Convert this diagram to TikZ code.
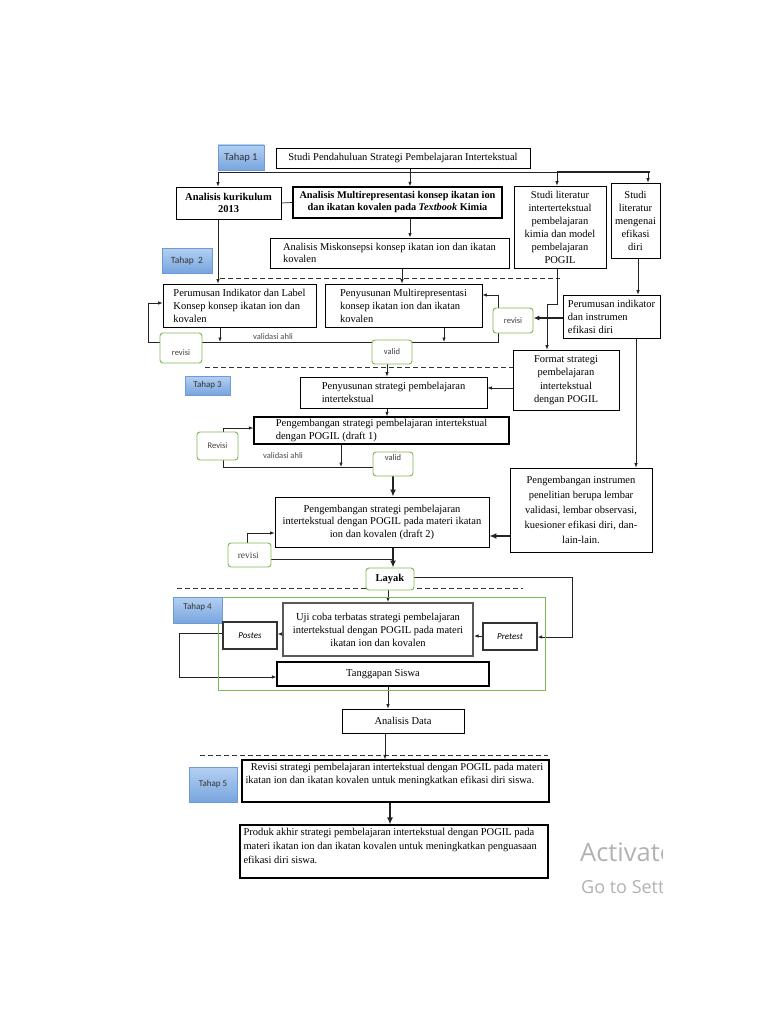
\documentclass[tikz,border=0pt]{standalone}
\usepackage{fontspec}
\setmainfont{Liberation Serif}
\newfontfamily\calfont{Carlito}
\newfontfamily\wmfont{Open Sans}
\usetikzlibrary{arrows.meta,backgrounds}
\definecolor{gcol}{RGB}{125,185,85}
\definecolor{tbtop}{RGB}{180,208,242}
\definecolor{tbbot}{RGB}{120,165,222}
\definecolor{tbline}{RGB}{110,155,215}
\definecolor{lncol}{RGB}{35,35,35}
\begin{document}
\begin{tikzpicture}[x=1pt,y=-1pt,
  bx/.style={draw=black, line width=0.8pt, fill=white, inner xsep=3pt, inner ysep=1pt,
     font=\fontsize{10.5}{12.5}\selectfont, align=center},
  gbox/.style={draw=gcol, line width=0.9pt, rounded corners=3pt, fill=white, inner sep=1pt,
     font=\calfont\fontsize{8.5}{9.5}\selectfont, text=black!75},
  tahap/.style={draw=tbline, line width=0.6pt, top color=tbtop, bottom color=tbbot, inner sep=1pt,
     font=\calfont\fontsize{9}{10}\selectfont, text=black!80},
  lbl/.style={font=\calfont\fontsize{8.5}{9.5}\selectfont, text=black!70, inner sep=0pt},
  ln/.style={draw=lncol, line width=0.7pt},
  arr/.style={ln, -{Latex[length=4.5pt,width=3.5pt]}},
  arrT/.style={draw=lncol, line width=1.4pt, -{Latex[length=7pt,width=6pt]}},
  sep/.style={draw=black!80, line width=0.8pt, dash pattern=on 5pt off 3pt}
]
\useasboundingbox (0,0) rectangle (768,1024);

% green frame of Tahap 4
\node[draw=gcol, line width=0.8pt, minimum width=327pt, minimum height=93pt, inner sep=0pt] (frame4) at (381.5,643.5) {};

% Tahap 1
\node[tahap, minimum width=46pt, minimum height=25pt, font=\calfont\fontsize{10.5}{11}\selectfont] (t1) at (241,157.5) {Tahap 1};
\node[bx, minimum width=254pt, minimum height=20pt] (studi) at (403,158) {Studi Pendahuluan Strategi Pembelajaran Intertekstual};
\node[bx, minimum width=105pt, minimum height=32pt, font=\bfseries\fontsize{10.5}{12}\selectfont] (kur) at (228.5,203) {Analisis kurikulum\\2013};
\node[bx, line width=1.4pt, minimum width=209pt, minimum height=31pt, font=\bfseries\fontsize{10.3}{12}\selectfont] (multi) at (397.5,202.5) {Analisis Multirepresentasi konsep ikatan ion\\dan ikatan kovalen pada \textit{Textbook} Kimia};
\node[bx, minimum width=92pt, minimum height=82pt, font=\fontsize{10.5}{13}\selectfont] (litpogil) at (560,227) {Studi literatur\\intertertekstual\\pembelajaran\\kimia dan model\\pembelajaran\\POGIL};
\node[bx, inner xsep=1pt, minimum width=49pt, minimum height=75pt, font=\fontsize{10.5}{13}\selectfont] (litefik) at (635.5,220.5) {Studi\\literatur\\mengenai\\efikasi\\diri};
\node[bx, align=left, minimum width=239pt, minimum height=30pt] (misk) at (389.5,253) {Analisis Miskonsepsi konsep ikatan ion dan ikatan\\kovalen};

% Tahap 2
\node[tahap, minimum width=50pt, minimum height=25pt, font=\calfont\fontsize{9.5}{10}\selectfont] (t2) at (187,260.5) {Tahap\ \ 2};
\node[bx, align=left, minimum width=153pt, minimum height=43pt, font=\fontsize{10.5}{13}\selectfont] (perum) at (239.5,305.5) {Perumusan Indikator dan Label\\Konsep konsep ikatan ion dan\\kovalen};
\node[bx, align=left, minimum width=157pt, minimum height=43pt, font=\fontsize{10.5}{13}\selectfont] (penyus) at (403.5,305.5) {Penyusunan Multirepresentasi\\konsep ikatan ion dan ikatan\\kovalen};
\node[bx, align=left, minimum width=97pt, minimum height=43pt, font=\fontsize{10.5}{13}\selectfont] (perind) at (611.5,316.5) {Perumusan indikator\\dan instrumen\\efikasi diri};
\node[gbox, minimum width=42pt, minimum height=30pt, text height=17pt, text depth=2pt] (rev1) at (181,348) {revisi};
\node[gbox, minimum width=40pt, minimum height=25pt] (rev2) at (513,320.5) {revisi};
\node[gbox, minimum width=40pt, minimum height=24pt] (valid1) at (392,352) {valid};
\node[lbl] (va1) at (273,337) {validasi ahli};

% Tahap 3
\node[tahap, minimum width=45pt, minimum height=19pt] (t3) at (207.5,385.5) {Tahap 3};
\node[bx, minimum width=106pt, minimum height=60pt, font=\fontsize{10.5}{13.5}\selectfont] (format) at (566,380) {Format strategi\\pembelajaran\\intertekstual\\dengan POGIL};
\node[bx, align=left, minimum width=187pt, minimum height=31pt] (penstrat) at (393.5,392.5) {Penyusunan strategi pembelajaran\\intertekstual};
\node[bx, line width=1.4pt, align=left, minimum width=255pt, minimum height=27pt] (draft1) at (381.5,430.5) {Pengembangan strategi pembelajaran intertekstual\\dengan POGIL (draft 1)};
\node[gbox, minimum width=41pt, minimum height=28pt] (rev3) at (217.5,446) {Revisi};
\node[gbox, minimum width=40pt, minimum height=24pt, text height=6pt, text depth=13pt] (valid2) at (393,464) {valid};
\node[lbl] (va2) at (283,456) {validasi ahli};
\node[bx, minimum width=214pt, minimum height=50pt] (draft2) at (382,522) {Pengembangan strategi pembelajaran\\intertekstual dengan POGIL pada materi ikatan\\ion dan kovalen (draft 2)};
\node[bx, minimum width=142pt, minimum height=84pt, font=\fontsize{10.5}{15}\selectfont] (instr) at (581,510) {Pengembangan instrumen\\penelitian berupa lembar\\validasi, lembar observasi,\\kuesioner efikasi diri, dan-\\lain-lain.};
\node[gbox, minimum width=43pt, minimum height=24pt, font=\fontsize{9.5}{10}\selectfont] (rev4) at (249.5,555) {revisi\ \ };
\node[gbox, minimum width=48pt, minimum height=22pt, font=\bfseries\fontsize{10.5}{12}\selectfont, text=black] (layak) at (390,579) {Layak};

% Tahap 4
\node[tahap, minimum width=49pt, minimum height=26pt, text height=6pt, text depth=8pt] (t4) at (197.5,610) {Tahap 4};
\node[bx, draw=black!65, line width=2pt, minimum width=190pt, minimum height=53pt, font=\fontsize{10.5}{13}\selectfont] (uji) at (378,629.5) {Uji coba terbatas strategi pembelajaran\\intertekstual dengan POGIL pada materi\\ikatan ion dan kovalen};
\node[bx, draw=black!80, line width=1.4pt, minimum width=54pt, minimum height=27pt, font=\calfont\itshape\fontsize{9}{10}\selectfont] (pretest) at (510,636.5) {Pretest};
\node[bx, draw=black!80, line width=1.2pt, minimum width=54pt, minimum height=27pt, font=\calfont\itshape\fontsize{9}{10}\selectfont] (postes) at (250,635.5) {Postes};
\node[bx, line width=1.2pt, minimum width=212pt, minimum height=24pt] (tangg) at (383,674) {Tanggapan Siswa};
\node[bx, minimum width=122pt, minimum height=24pt] (data) at (403,721) {Analisis Data};

% Tahap 5
\node[tahap, minimum width=48pt, minimum height=35pt] (t5) at (213,784.5) {Tahap 5};
\node[bx, line width=1.2pt, inner ysep=3pt, minimum width=307pt, minimum height=42pt] (revstrat) at (395.5,781) {\parbox[c][35pt][t]{300pt}{\raggedright\fontsize{10.5}{13}\selectfont\ \ Revisi strategi pembelajaran intertekstual dengan POGIL pada materi\\ikatan ion dan ikatan kovalen untuk meningkatkan efikasi diri siswa.}};
\node[bx, line width=1.1pt, inner ysep=3pt, minimum width=308pt, minimum height=53pt] (produk) at (394,851.5) {\parbox[c][46pt][t]{301pt}{\raggedright\fontsize{10.5}{14}\selectfont Produk akhir strategi pembelajaran intertekstual dengan POGIL pada\\materi ikatan ion dan ikatan kovalen untuk meningkatkan penguasaan\\efikasi diri siswa.}};

% watermark
\begin{scope}
\clip (0,0) rectangle (662,1024);
\node[anchor=base west, inner sep=0pt, font=\wmfont\fontsize{25.5}{26}\selectfont, text=black!30] (wm1) at (580,861) {Activate};
\node[anchor=base west, inner sep=0pt, font=\wmfont\fontsize{18}{18}\selectfont, text=black!30] (wm2) at (581,893) {Go to Settings};
\end{scope}

\begin{pgfonlayer}{background}
% stage separators
\draw[sep] (220,278) -- (560,278);
\draw[sep] (205,367) -- (513,367);
\draw[sep] (177,588) -- (523,588);
\draw[sep] (200,755) -- (548,755);

% Tahap 1 connectors
\coordinate (hL) at (218,172);
\coordinate (hM) at (557,172);
\coordinate (hR) at (650,172);
\draw[ln] (hL) -- (hM);
\draw[ln, line width=1.6pt] (hM) -- (hR);
\draw[arr] (hL) -- (218,0 |- kur.north);
\draw[arr] (hM) -- (557,0 |- litpogil.north);
\draw[arr] (648,172) -- (648,0 |- litefik.north);
\draw[arr] (410,0 |- studi.south) -- (410,0 |- multi.north);
\draw[ln] (kur.east) -- (multi.west);
\draw[arr, line width=1pt] (410,0 |- multi.south) -- (410,0 |- misk.north);

% Tahap 2 connectors
\draw[arr] (218,0 |- kur.south) -- (218,0 |- perum.north);
\draw[arr] (402,0 |- misk.south) -- (402,0 |- penyus.north);
\draw[arr] (638,0 |- litefik.south) -- (638,0 |- perind.north);
\draw[arr] (557,0 |- litpogil.south) -- (557,304) -- (547,304) -- (547,0 |- format.north);
\draw[draw=lncol, line width=1.5pt, -{Latex[length=6pt,width=5pt]}] (perind.west |- 0,318) -- (rev2.east |- 0,318);
\draw[arr] (498,0 |- rev2.north) -- (498,295) -- (penyus.east |- 0,295);
\draw[ln] (498,0 |- rev2.south) -- (498,342) -- (148,342) -- (148,303);
\draw[arr] (148,303) -- (perum.west |- 0,303);
\draw[arr] (220,0 |- perum.south) -- (220,342);
\draw[arr] (444,0 |- penyus.south) -- (444,342);

% Tahap 3 connectors
\draw[arr] (387,0 |- valid1.south) -- (387,0 |- penstrat.north);
\draw[arr] (format.west |- 0,388) -- (penstrat.east |- 0,388);
\draw[arr] (387,0 |- penstrat.south) -- (387,0 |- draft1.north);
\draw[arr] (223,0 |- rev3.north) -- (223,428) -- (draft1.west |- 0,428);
\draw[ln] (223,0 |- rev3.south) -- (223,467) -- (valid2.west |- 0,467);
\draw[arr] (341,0 |- draft1.south) -- (341,467);
\draw[arrT] (393,0 |- valid2.south) -- (393,0 |- draft2.north);
\draw[arr] (636,0 |- perind.south) -- (636,0 |- instr.north);
\draw[arrT] (instr.west |- 0,536) -- (draft2.east |- 0,536);
\draw[arr] (247,0 |- rev4.north) -- (247,533) -- (draft2.west |- 0,533);
\draw[ln] (rev4.east |- 0,559) -- (393,559);
\draw[arrT] (393,0 |- draft2.south) -- (393,0 |- layak.north);

% Tahap 4 connectors
\draw[arr] (layak.east |- 0,577) -- (572,577) -- (572,637) -- (pretest.east |- 0,637);
\draw[arr] (388,0 |- layak.south) -- (388,0 |- uji.north);
\draw[arr] (pretest.west |- 0,636) -- (uji.east |- 0,636);
\draw[arr] (uji.west |- 0,634) -- (postes.east |- 0,634);
\draw[arr] (postes.west |- 0,633) -- (179,633) -- (179,677) -- (tangg.west |- 0,677);
\draw[arr] (388,0 |- tangg.south) -- (388,0 |- data.north);

% Tahap 5 connectors
\draw[arr] (385,0 |- data.south) -- (385,0 |- revstrat.north);
\draw[arrT] (390,0 |- revstrat.south) -- (390,0 |- produk.north);
\end{pgfonlayer}
\end{tikzpicture}
\end{document}
